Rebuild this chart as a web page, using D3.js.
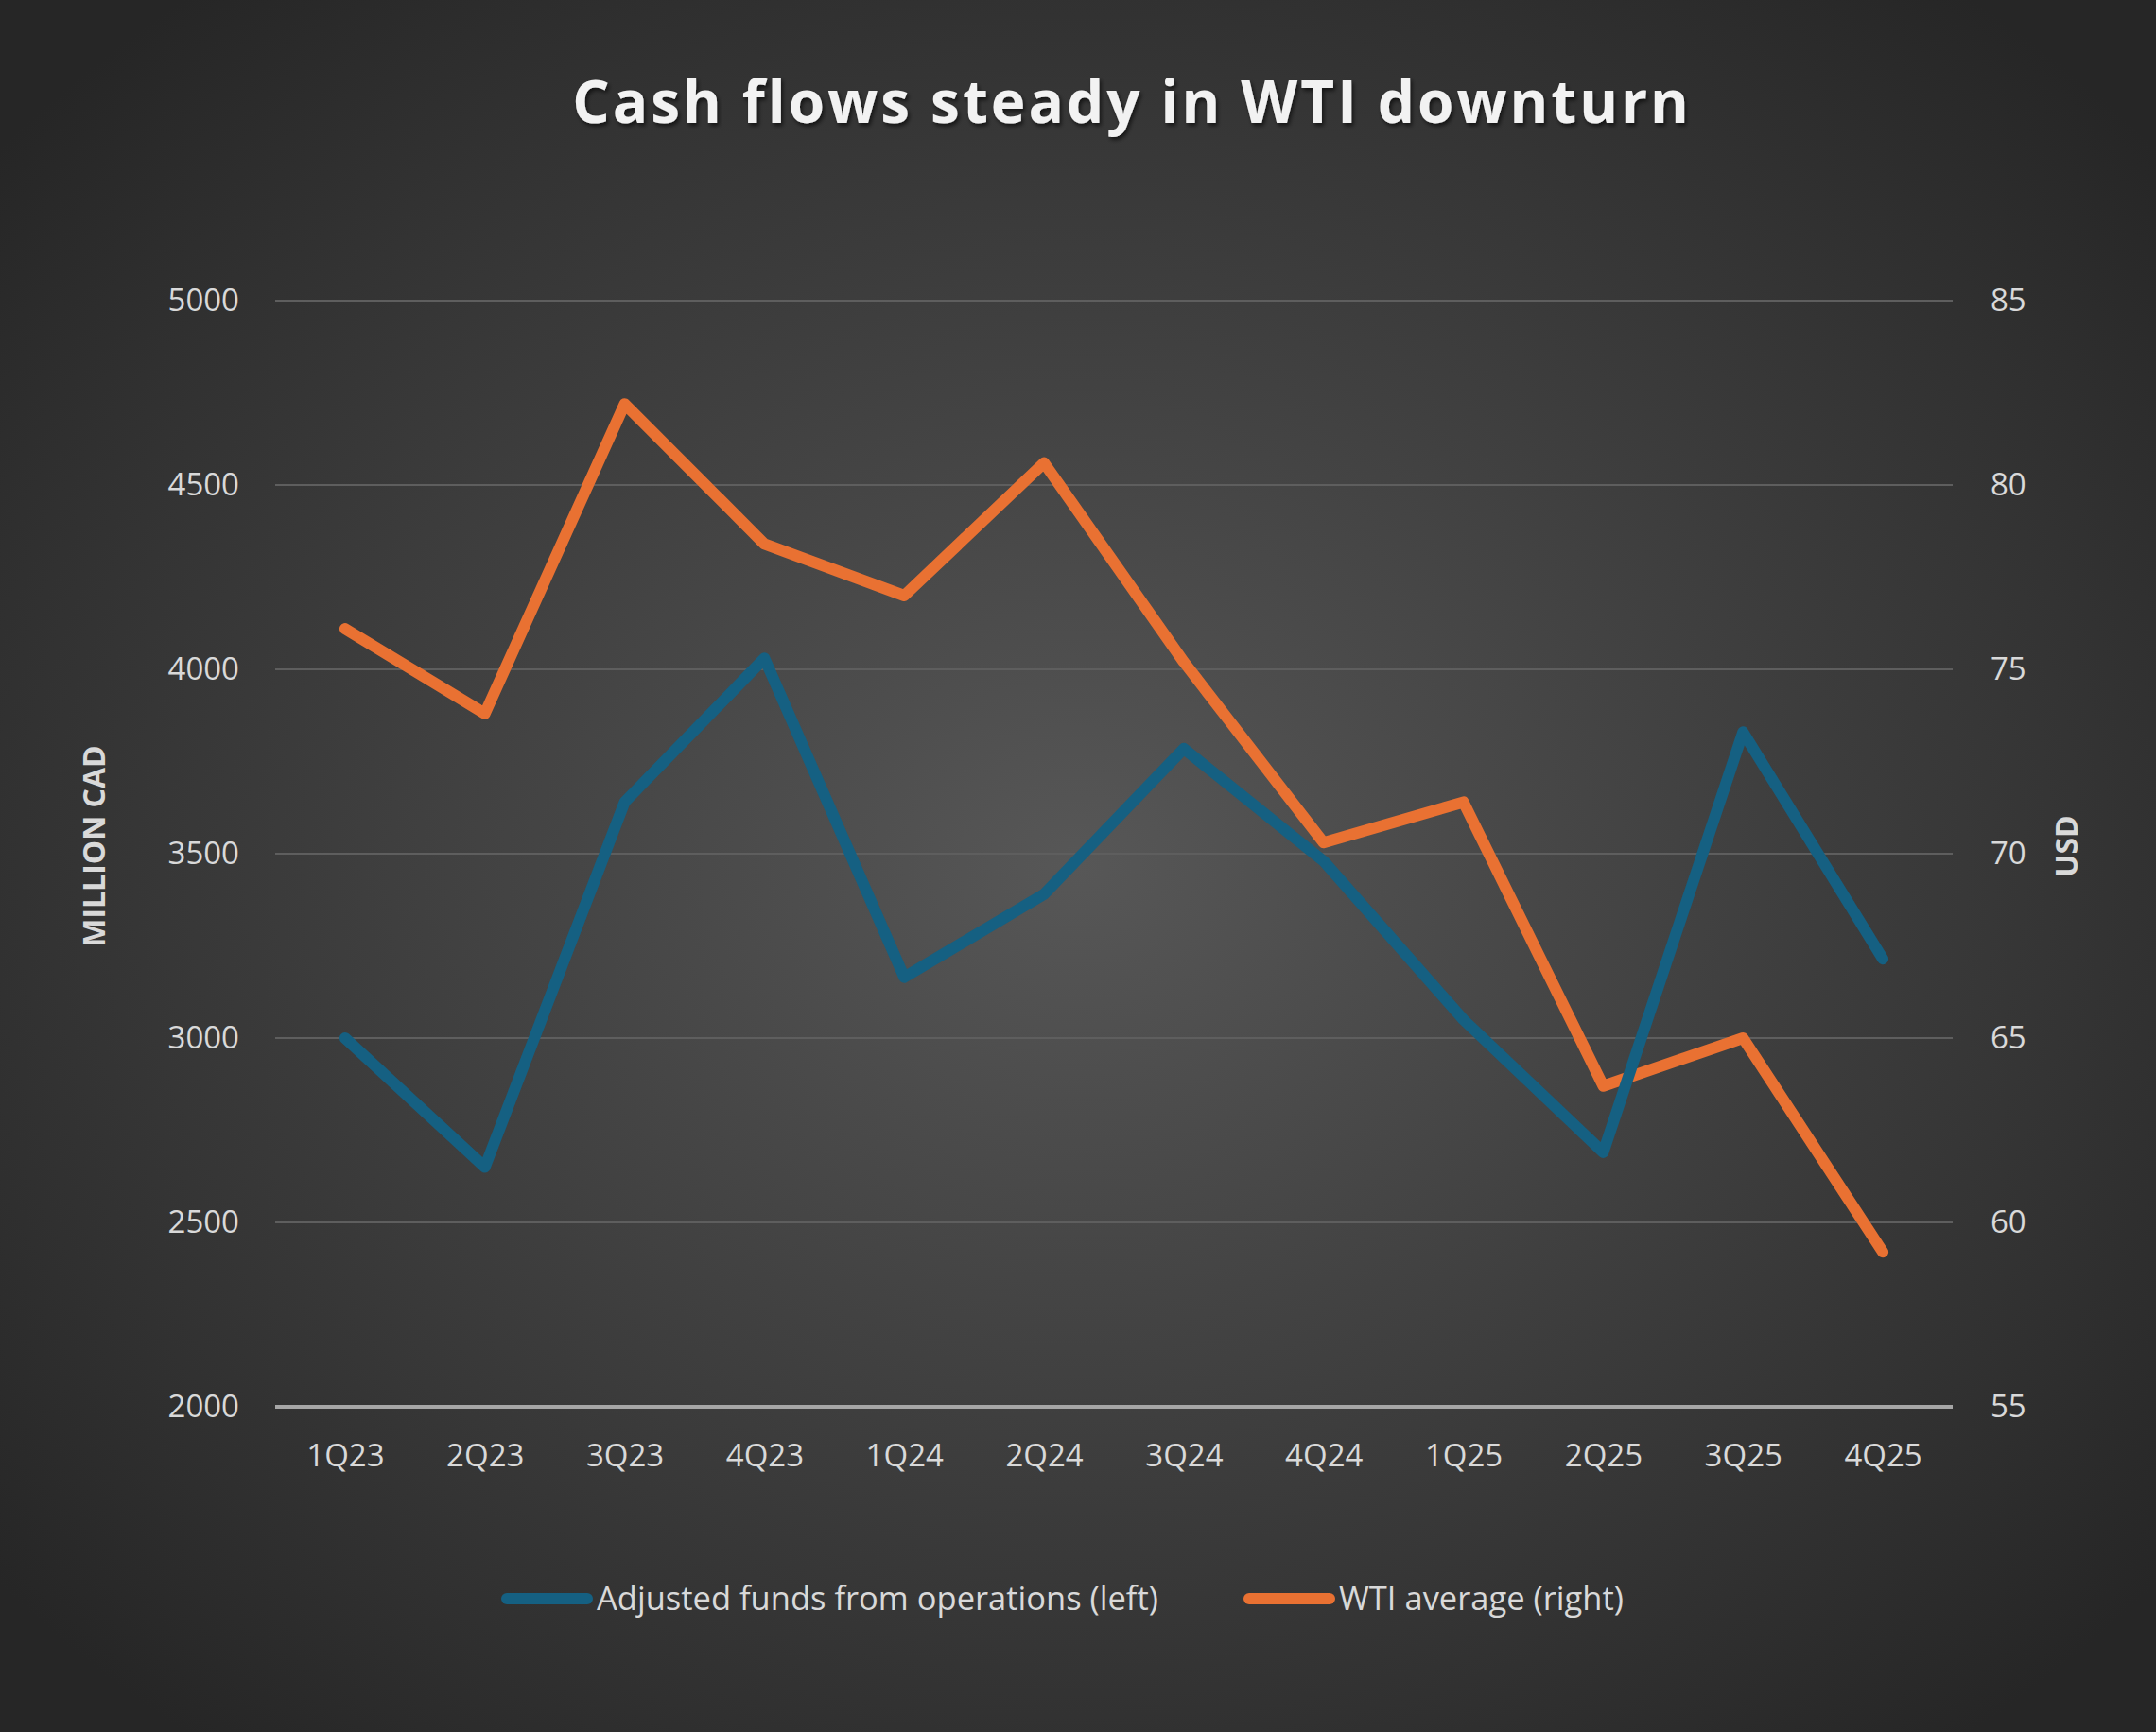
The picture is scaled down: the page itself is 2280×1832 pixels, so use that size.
<!DOCTYPE html>
<html>
<head>
<meta charset="utf-8">
<script src="https://cdn.jsdelivr.net/npm/d3@7"></script>
<style>
  body { margin: 0; background: #2b2b2b; }
  svg { display: block; }
</style>
</head>
<body>
<div id="chart"></div>
<script>
// Chart data
var quarters = ["1Q23", "2Q23", "3Q23", "4Q23", "1Q24", "2Q24", "3Q24", "4Q24", "1Q25", "2Q25", "3Q25", "4Q25"];
var fundsFromOps = [3000, 2650, 3640, 4030, 3165, 3390, 3785, 3480, 3050, 2690, 3830, 3215];
var wtiAverage = [76.1, 73.8, 82.2, 78.4, 77.0, 80.6, 75.2, 70.3, 71.4, 63.7, 65.0, 59.2];
var leftTicks = [2000, 2500, 3000, 3500, 4000, 4500, 5000];
var rightTicks = [55, 60, 65, 70, 75, 80, 85];

var W = 2280, H = 1832;
var margin = {top: 318, right: 215, bottom: 344, left: 291},
    width = W - margin.left - margin.right,
    height = H - margin.top - margin.bottom;

var font = "'Open Sans', sans-serif";

var svg = d3.select("#chart")
  .append("svg")
    .attr("width", W)
    .attr("height", H);

// Background radial gradient
var defs = svg.append("defs");
var grad = defs.append("radialGradient")
    .attr("id", "bg")
    .attr("cx", "50%").attr("cy", "50%").attr("r", "65%");
grad.append("stop").attr("offset", "0%").attr("stop-color", "#575757");
grad.append("stop").attr("offset", "100%").attr("stop-color", "#262626");

var shadow = defs.append("filter").attr("id", "shadow")
    .attr("x", "-10%").attr("y", "-30%").attr("width", "120%").attr("height", "160%");
shadow.append("feDropShadow")
    .attr("dx", 2).attr("dy", 3).attr("stdDeviation", 2)
    .attr("flood-color", "#000").attr("flood-opacity", 0.6);

svg.append("rect")
    .attr("width", W).attr("height", H)
    .attr("fill", "url(#bg)");

var g = svg.append("g")
    .attr("transform", "translate(" + margin.left + "," + margin.top + ")");

// Scales
var x = d3.scalePoint().domain(quarters).range([0, width]).padding(0.5);
var yLeft = d3.scaleLinear().domain([2000, 5000]).range([height, 0]);
var yRight = d3.scaleLinear().domain([55, 85]).range([height, 0]);

// Gridlines
g.selectAll(".grid")
  .data(leftTicks.slice(1))
  .enter()
  .append("line")
    .attr("x1", 0).attr("x2", width)
    .attr("y1", function(d) { return yLeft(d); })
    .attr("y2", function(d) { return yLeft(d); })
    .attr("stroke", "#5e5e5e")
    .attr("stroke-width", 2);

// Baseline
g.append("line")
    .attr("x1", 0).attr("x2", width)
    .attr("y1", height).attr("y2", height)
    .attr("stroke", "#a6a6a6")
    .attr("stroke-width", 4);

// Left axis
var leftAxis = g.append("g")
    .call(d3.axisLeft(yLeft).tickValues(leftTicks).tickFormat(d3.format("d")).tickSize(0).tickPadding(38));
leftAxis.select(".domain").remove();
leftAxis.selectAll("text")
    .attr("fill", "#d9d9d9")
    .style("font-family", font)
    .style("font-size", "33px");

// Right axis
var rightAxis = g.append("g")
    .attr("transform", "translate(" + width + ",0)")
    .call(d3.axisRight(yRight).tickValues(rightTicks).tickSize(0).tickPadding(40));
rightAxis.select(".domain").remove();
rightAxis.selectAll("text")
    .attr("fill", "#d9d9d9")
    .style("font-family", font)
    .style("font-size", "33px");

// X axis
var xAxis = g.append("g")
    .attr("transform", "translate(0," + height + ")")
    .call(d3.axisBottom(x).tickSize(0).tickPadding(40));
xAxis.select(".domain").remove();
xAxis.selectAll("text")
    .attr("fill", "#d9d9d9")
    .style("font-family", font)
    .style("font-size", "33px");

// Lines
var fundsLine = d3.line()
    .x(function(d, i) { return x(quarters[i]); })
    .y(function(d) { return yLeft(d); });
var wtiLine = d3.line()
    .x(function(d, i) { return x(quarters[i]); })
    .y(function(d) { return yRight(d); });

g.append("path")
    .datum(wtiAverage)
    .attr("fill", "none")
    .attr("stroke", "#e97132")
    .attr("stroke-width", 12)
    .attr("stroke-linejoin", "round")
    .attr("stroke-linecap", "round")
    .attr("d", wtiLine);

g.append("path")
    .datum(fundsFromOps)
    .attr("fill", "none")
    .attr("stroke", "#156082")
    .attr("stroke-width", 12)
    .attr("stroke-linejoin", "round")
    .attr("stroke-linecap", "round")
    .attr("d", fundsLine);

// Axis titles
svg.append("text")
    .attr("transform", "translate(111," + (margin.top + height / 2 - 8) + ") rotate(-90)")
    .attr("text-anchor", "middle")
    .attr("fill", "#d9d9d9")
    .style("font-family", font)
    .style("font-weight", "bold")
    .style("font-size", "32px")
    .text("MILLION CAD");

svg.append("text")
    .attr("transform", "translate(2197," + (margin.top + height / 2 - 8) + ") rotate(-90)")
    .attr("text-anchor", "middle")
    .attr("fill", "#d9d9d9")
    .style("font-family", font)
    .style("font-weight", "bold")
    .style("font-size", "32px")
    .text("USD");

// Title
svg.append("text")
    .attr("x", W / 2 + 57)
    .attr("y", 130)
    .attr("text-anchor", "middle")
    .attr("fill", "#f2f2f2")
    .attr("filter", "url(#shadow)")
    .style("font-family", font)
    .style("font-weight", "bold")
    .style("font-size", "62px")
    .style("letter-spacing", "3px")
    .text("Cash flows steady in WTI downturn");

// Legend
var legendItems = [
  {label: "Adjusted funds from operations (left)", color: "#156082", x: 531},
  {label: "WTI average (right)", color: "#e97132", x: 1316}
];
var legend = svg.append("g");
legendItems.forEach(function(d) {
  legend.append("line")
      .attr("x1", d.x + 5).attr("x2", d.x + 90)
      .attr("y1", 1691).attr("y2", 1691)
      .attr("stroke", d.color)
      .attr("stroke-width", 12)
      .attr("stroke-linecap", "round");
  legend.append("text")
      .attr("x", d.x + 100)
      .attr("y", 1703)
      .attr("fill", "#d9d9d9")
      .style("font-family", font)
      .style("font-size", "34.5px")
      .text(d.label);
});
</script>
</body>
</html>
